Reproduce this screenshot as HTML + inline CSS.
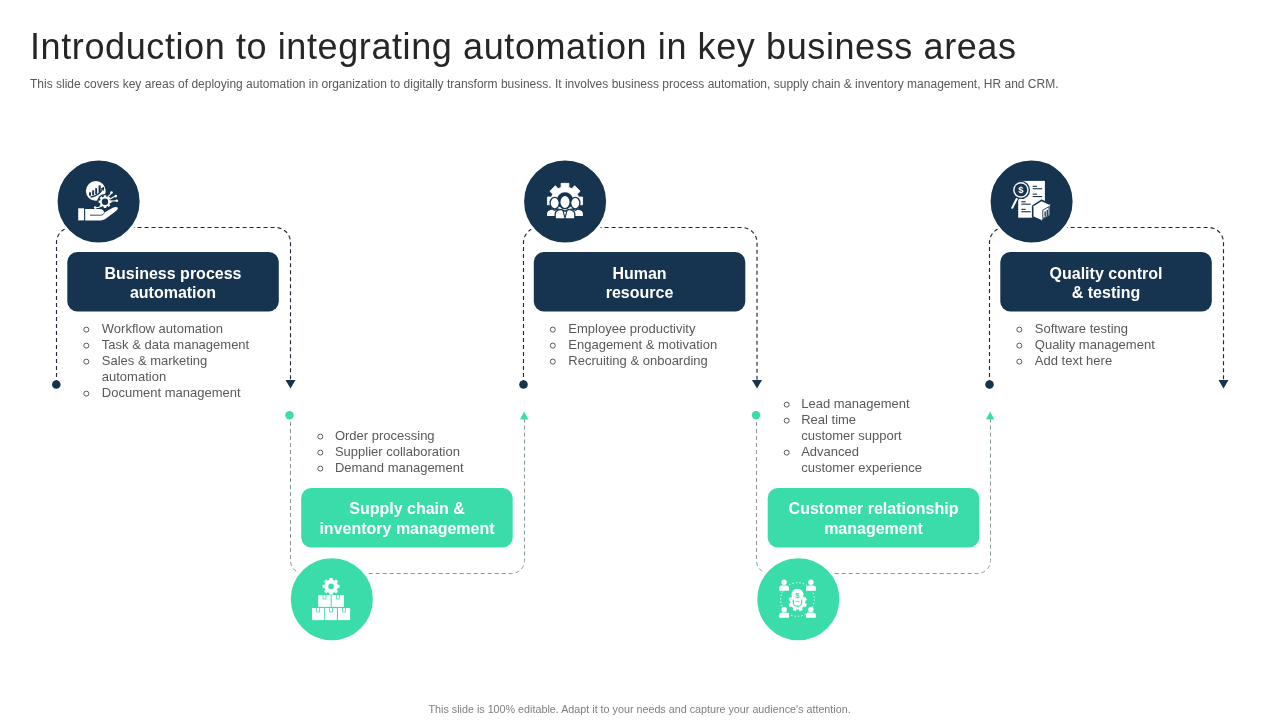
<!DOCTYPE html>
<html><head><meta charset="utf-8">
<style>
html,body{margin:0;padding:0;background:#fff;}
body{width:1280px;height:720px;overflow:hidden;position:relative;font-family:"Liberation Sans",sans-serif;}
svg{position:absolute;left:0;top:0;will-change:transform;}
text{font-family:"Liberation Sans",sans-serif;}
.li{font-size:13px;fill:#595959;}
.bt{font-size:16px;font-weight:bold;fill:#fff;}
</style></head>
<body>
<svg width="1280" height="720" viewBox="0 0 1280 720">
<defs>
  <g id="bul"><circle cx="0" cy="0.6" r="2.5" fill="none" stroke="#595959" stroke-width="1"/></g>
</defs>
<!-- Title -->
<text x="30" y="59.3" font-size="36" letter-spacing="0.6" fill="#262626">Introduction to integrating automation in key business areas</text>
<text x="30" y="88" font-size="12" fill="#595959">This slide covers key areas of deploying automation in organization to digitally transform business. It involves business process automation, supply chain &amp; inventory management, HR and CRM.</text>

<!-- top dashed loops -->
<g fill="none" stroke="#1f2a36" stroke-width="1.15" stroke-dasharray="4 3">
  <path d="M56.5 384 V242.5 A15 15 0 0 1 71.5 227.5 H275.5 A15 15 0 0 1 290.5 242.5 V381"/>
  <path d="M523.5 384 V242.5 A15 15 0 0 1 538.5 227.5 H742 A15 15 0 0 1 757 242.5 V381"/>
  <path d="M989.5 384 V242.5 A15 15 0 0 1 1004.5 227.5 H1208.5 A15 15 0 0 1 1223.5 242.5 V381"/>
</g>
<!-- bottom dashed loops -->
<g fill="none" stroke="#8a9894" stroke-width="1" stroke-dasharray="4 3">
  <path d="M290.5 415 V560.5 A13 13 0 0 0 303.5 573.5 H511.5 A13 13 0 0 0 524.5 560.5 V419"/>
  <path d="M756.5 415 V560.5 A13 13 0 0 0 769.5 573.5 H977.5 A13 13 0 0 0 990.5 560.5 V419"/>
</g>
<!-- dots and arrows -->
<g fill="#16334F">
  <circle cx="56.3" cy="384.5" r="4.3"/>
  <circle cx="523.5" cy="384.5" r="4.3"/>
  <circle cx="989.5" cy="384.5" r="4.3"/>
  <path d="M285.5 380 H295.5 L290.5 388.5 Z"/>
  <path d="M752 380 H762 L757 388.5 Z"/>
  <path d="M1218.5 380 H1228.5 L1223.5 388.5 Z"/>
</g>
<g fill="#3ADDAA">
  <circle cx="289.5" cy="415.3" r="4.2"/>
  <circle cx="756" cy="415.3" r="4.2"/>
  <path d="M520 419.5 H528.3 L524.1 411.5 Z"/>
  <path d="M986 419.5 H994.3 L990.1 411.5 Z"/>
</g>

<!-- navy circles -->
<g fill="#16334F" stroke="#fff" stroke-width="3">
  <circle cx="98.6" cy="201.4" r="42.5"/>
  <circle cx="565.1" cy="201.4" r="42.5"/>
  <circle cx="1031.6" cy="201.4" r="42.5"/>
</g>
<!-- teal circles -->
<g fill="#3ADDAA" stroke="#fff" stroke-width="3">
  <circle cx="331.8" cy="599.3" r="42.5"/>
  <circle cx="798.3" cy="599.3" r="42.5"/>
</g>

<!-- navy boxes -->
<g fill="#16334F">
  <rect x="67.3" y="252" width="211.5" height="59.5" rx="10"/>
  <rect x="533.8" y="252" width="211.5" height="59.5" rx="10"/>
  <rect x="1000.3" y="252" width="211.5" height="59.5" rx="10"/>
</g>
<g fill="#3ADDAA">
  <rect x="301.2" y="488" width="211.5" height="59.5" rx="10"/>
  <rect x="767.7" y="488" width="211.5" height="59.5" rx="10"/>
</g>

<!-- box texts -->
<g class="bt" text-anchor="middle">
  <text x="173" y="278.8">Business process</text>
  <text x="173" y="297.5">automation</text>
  <text x="639.5" y="278.8">Human</text>
  <text x="639.5" y="297.5">resource</text>
  <text x="1106" y="278.8">Quality control</text>
  <text x="1106" y="297.5">&amp; testing</text>
  <text x="407" y="514.3">Supply chain &amp;</text>
  <text x="407" y="533.6">inventory management</text>
  <text x="873.5" y="514.3">Customer relationship</text>
  <text x="873.5" y="533.6">management</text>
</g>

<!-- lists -->
<g class="li">
  <text x="101.8" y="333">Workflow automation</text>
  <text x="101.8" y="349">Task &amp; data management</text>
  <text x="101.8" y="365">Sales &amp; marketing</text>
  <text x="101.8" y="381">automation</text>
  <text x="101.8" y="397">Document management</text>

  <text x="568.3" y="333">Employee productivity</text>
  <text x="568.3" y="349">Engagement &amp; motivation</text>
  <text x="568.3" y="365">Recruiting &amp; onboarding</text>

  <text x="1034.8" y="333">Software testing</text>
  <text x="1034.8" y="349">Quality management</text>
  <text x="1034.8" y="365">Add text here</text>

  <text x="334.9" y="440">Order processing</text>
  <text x="334.9" y="456">Supplier collaboration</text>
  <text x="334.9" y="472">Demand management</text>

  <text x="801.2" y="408">Lead management</text>
  <text x="801.2" y="424">Real time</text>
  <text x="801.2" y="440">customer support</text>
  <text x="801.2" y="456">Advanced</text>
  <text x="801.2" y="472">customer experience</text>
</g>
<g>
  <use href="#bul" x="86.3" y="329"/><use href="#bul" x="86.3" y="345"/><use href="#bul" x="86.3" y="361"/><use href="#bul" x="86.3" y="393"/>
  <use href="#bul" x="552.8" y="329"/><use href="#bul" x="552.8" y="345"/><use href="#bul" x="552.8" y="361"/>
  <use href="#bul" x="1019.3" y="329"/><use href="#bul" x="1019.3" y="345"/><use href="#bul" x="1019.3" y="361"/>
  <use href="#bul" x="320.3" y="436"/><use href="#bul" x="320.3" y="452"/><use href="#bul" x="320.3" y="468"/>
  <use href="#bul" x="786.7" y="404"/><use href="#bul" x="786.7" y="420"/><use href="#bul" x="786.7" y="452"/>
</g>

<!-- footer -->
<text x="639.6" y="712.5" font-size="10.75" fill="#7f7f7f" text-anchor="middle">This slide is 100% editable. Adapt it to your needs and capture your audience's attention.</text>

<!-- ICONS -->
<g id="icons">
<!-- icon1: hand + chart + gear -->
<g>
  <circle cx="95.8" cy="190.9" r="9.9" fill="#fff"/>
  <g fill="#16334F">
    <rect x="89.1" y="192.3" width="1.9" height="3.4"/>
    <rect x="92.2" y="190.3" width="1.9" height="5"/>
    <rect x="95.2" y="188.2" width="1.9" height="6"/>
    <rect x="98.6" y="185.4" width="2.1" height="7.2"/>
  </g>
  <path d="M90.5 197 Q98 196.4 102.4 189.4" fill="none" stroke="#16334F" stroke-width="1.3"/>
  <path d="M100.6 188.8 L104.3 186.4 L103.9 190.8 Z" fill="#16334F"/>
  <circle cx="105" cy="201.7" r="7.8" fill="#16334F"/>
  <path d="M106.95 196.99 L106.32 196.77 L106.24 195.32 L103.76 195.32 L103.68 196.77 L103.05 196.99 L102.45 197.28 L101.37 196.31 L99.61 198.07 L100.58 199.15 L100.29 199.75 L100.07 200.38 L98.62 200.46 L98.62 202.94 L100.07 203.02 L100.29 203.65 L100.58 204.25 L99.61 205.33 L101.37 207.09 L102.45 206.12 L103.05 206.41 L103.68 206.63 L103.76 208.08 L106.24 208.08 L106.32 206.63 L106.95 206.41 L107.55 206.12 L108.63 207.09 L110.39 205.33 L109.42 204.25 L109.71 203.65 L109.93 203.02 L111.38 202.94 L111.38 200.46 L109.93 200.38 L109.71 199.75 L109.42 199.15 L110.39 198.07 L108.63 196.31 L107.55 197.28 Z" fill="#fff"/>
  <circle cx="105" cy="201.7" r="3.2" fill="#16334F"/>
  <g stroke="#fff" stroke-width="1.1" fill="none">
    <path d="M107.6 196.8 L110.2 194.6 L111.4 192.9"/>
    <path d="M109.6 199.2 L113 197.2 L115.6 196.2"/>
    <path d="M110.5 201.1 L116.6 200.8"/>
    <path d="M101.5 206 L98.5 207.5 L95.4 207.6"/>
  </g>
  <g fill="#fff">
    <circle cx="111.5" cy="192.6" r="1.3"/>
    <circle cx="115.8" cy="196.1" r="1.3"/>
    <circle cx="116.8" cy="200.8" r="1.3"/>
    <circle cx="95.2" cy="207.6" r="1.3"/>
  </g>
  <rect x="78.2" y="208.3" width="5.9" height="12.1" fill="#fff"/>
  <path d="M85.2 208.9 H99.5 C102.5 208.9 104.3 210.6 104 212.8 L111.5 208.5 C114 207 116.5 206.5 117.6 207.6 C118.3 208.6 117.5 209.8 116 211 L106 218.5 C104 220 101.5 220.6 99 220.6 H85.2 Z" fill="#fff"/>
  <path d="M90 215.2 H100.5 C102.5 215.2 103.9 214.2 104 212.8" fill="none" stroke="#16334F" stroke-width="0.85"/>
</g>

<!-- icon2: HR -->
<g>
  <path d="M570.36 187.97 L568.86 187.44 L568.90 183.33 L561.10 183.33 L561.14 187.44 L559.64 187.97 L558.21 188.66 L555.33 185.72 L549.82 191.23 L552.76 194.11 L552.07 195.54 L551.54 197.04 L547.43 197.00 L547.43 204.80 L551.54 204.76 L552.07 206.26 L552.76 207.69 L549.82 210.57 L555.33 216.08 L558.21 213.14 L559.64 213.83 L561.14 214.36 L561.10 218.47 L568.90 218.47 L568.86 214.36 L570.36 213.83 L571.79 213.14 L574.67 216.08 L580.18 210.57 L577.24 207.69 L577.93 206.26 L578.46 204.76 L582.57 204.80 L582.57 197.00 L578.46 197.04 L577.93 195.54 L577.24 194.11 L580.18 191.23 L574.67 185.72 L571.79 188.66 Z" fill="#fff" stroke="#fff" stroke-width="0.8" stroke-linejoin="round"/>
  <circle cx="565" cy="200.6" r="8.3" fill="#16334F"/>
  <g fill="#fff" stroke="#16334F" stroke-width="1.3">
    <ellipse cx="554.7" cy="203.1" rx="4.6" ry="5.8"/>
    <path d="M546.4 216.6 V213.4 C546.4 210.9 548.8 209.5 552 209 L554.7 210.3 L557.4 209 C560.6 209.5 563 210.9 563 213.4 V216.6 Z"/>
    <ellipse cx="575.3" cy="203.1" rx="4.6" ry="5.8"/>
    <path d="M567 216.6 V213.4 C567 210.9 569.4 209.5 572.6 209 L575.3 210.3 L578 209 C581.2 209.5 583.6 210.9 583.6 213.4 V216.6 Z"/>
    <ellipse cx="565" cy="202" rx="5.2" ry="6.7"/>
    <path d="M555.2 219 V214 C555.2 211.4 557.8 209.8 561.2 209.3 L565 211.2 L568.8 209.3 C572.2 209.8 574.8 211.4 574.8 214 V219 Z"/>
  </g>
  <path d="M562.8 209.8 L565 218.2 L567.2 209.8" fill="none" stroke="#16334F" stroke-width="1.1"/>
</g>

<!-- icon3: QC -->
<g>
  <rect x="1018.2" y="180.9" width="26.7" height="36.8" fill="#fff"/>
  <g fill="#16334F">
    <rect x="1032.7" y="185.8" width="4.4" height="1.1"/>
    <rect x="1032.7" y="188.2" width="9.4" height="1.1"/>
    <rect x="1032.7" y="193.6" width="4.4" height="1.1"/>
    <rect x="1032.7" y="196" width="9.4" height="1.1"/>
    <rect x="1021.3" y="201.2" width="4.4" height="1.1"/>
    <rect x="1021.3" y="203.6" width="9.4" height="1.1"/>
    <rect x="1021.3" y="208.8" width="4.4" height="1.1"/>
    <rect x="1021.3" y="211.2" width="9.4" height="1.1"/>
  </g>
  <line x1="1017" y1="198.2" x2="1012.3" y2="207.8" stroke="#16334F" stroke-width="4.2" stroke-linecap="round"/>
  <line x1="1017" y1="198.2" x2="1012.3" y2="207.8" stroke="#fff" stroke-width="2" stroke-linecap="round"/>
  <circle cx="1020.9" cy="189.9" r="9.2" fill="#16334F"/>
  <circle cx="1020.9" cy="189.9" r="7.8" fill="#fff"/>
  <circle cx="1020.9" cy="189.9" r="6.4" fill="#16334F"/>
  <text x="1020.9" y="193.3" font-size="9.5" font-weight="bold" fill="#fff" text-anchor="middle">$</text>
  <path d="M1041.4 200.3 L1050.4 204.5 V215.5 L1041.4 220.8 L1032.7 217 V205.9 Z" fill="#fff" stroke="#16334F" stroke-width="1.6" stroke-linejoin="round"/>
  <path d="M1032.7 205.9 L1041.6 210 L1050.4 204.5 M1041.6 210 V220.6" fill="none" stroke="#fff" stroke-width="0.6"/>
  <path d="M1042.8 210.2 L1049 206.6 V214.6 L1042.8 218.4 Z" fill="none" stroke="#16334F" stroke-width="0.9"/>
  <rect x="1044.5" y="211.5" width="1.3" height="4.6" fill="#16334F"/>
  <rect x="1046.6" y="209.8" width="1.3" height="5.2" fill="#16334F"/>
</g>

<!-- icon4: supply chain -->
<g fill="#fff">
  <path d="M333.66 580.21 L332.72 579.90 L332.74 577.96 L329.46 577.96 L329.48 579.90 L328.54 580.21 L327.65 580.66 L326.29 579.27 L323.97 581.59 L325.36 582.95 L324.91 583.84 L324.60 584.78 L322.66 584.76 L322.66 588.04 L324.60 588.02 L324.91 588.96 L325.36 589.85 L323.97 591.21 L326.29 593.53 L327.65 592.14 L328.54 592.59 L329.48 592.90 L329.46 594.84 L332.74 594.84 L332.72 592.90 L333.66 592.59 L334.55 592.14 L335.91 593.53 L338.23 591.21 L336.84 589.85 L337.29 588.96 L337.60 588.02 L339.54 588.04 L339.54 584.76 L337.60 584.78 L337.29 583.84 L336.84 582.95 L338.23 581.59 L335.91 579.27 L334.55 580.66 Z"/>
  <circle cx="331.1" cy="586.4" r="2.8" fill="#3ADDAA"/>
  <rect x="318.2" y="595.1" width="12.5" height="11.8"/>
  <rect x="331.7" y="595.1" width="12.2" height="11.8"/>
  <rect x="312" y="608" width="12.2" height="12.1"/>
  <rect x="325.1" y="608" width="11.8" height="12.1"/>
  <rect x="338" y="608" width="12.1" height="12.1"/>
  <g fill="none" stroke="#3ADDAA" stroke-width="0.8">
    <path d="M323 595 V599 H326 V595"/>
    <path d="M336.4 595 V599 H339.4 V595"/>
    <path d="M316.6 608 V612 H319.6 V608"/>
    <path d="M329.5 608 V612 H332.5 V608"/>
    <path d="M342.5 608 V612 H345.5 V608"/>
  </g>
</g>

<!-- icon5: CRM -->
<g fill="#fff">
  <circle cx="797.5" cy="599.5" r="16.8" fill="none" stroke="#fff" stroke-width="1" stroke-dasharray="1.3 2.2"/>
  <circle cx="784.1" cy="582.3" r="2.7"/>
  <path d="M779.2 590.8 V587.6 C779.2 586.3 780.5 585.5 782 585.4 H786.2 C787.7 585.5 789 586.3 789 587.6 V590.8 Z"/>
  <circle cx="810.9" cy="582.3" r="2.7"/>
  <path d="M806 590.8 V587.6 C806 586.3 807.3 585.5 808.8 585.4 H813 C814.5 585.5 815.8 586.3 815.8 587.6 V590.8 Z"/>
  <circle cx="784.1" cy="609.4" r="2.7"/>
  <path d="M779.2 617.8 V614.6 C779.2 613.3 780.5 612.5 782 612.4 H786.2 C787.7 612.5 789 613.3 789 614.6 V617.8 Z"/>
  <circle cx="810.9" cy="609.4" r="2.7"/>
  <path d="M806 617.8 V614.6 C806 613.3 807.3 612.5 808.8 612.4 H813 C814.5 612.5 815.8 613.3 815.8 614.6 V617.8 Z"/>
  <path d="M803.07 596.63 L802.11 595.81 L802.75 594.07 L799.73 592.82 L798.95 594.50 L797.70 594.40 L796.45 594.50 L795.67 592.82 L792.65 594.07 L793.29 595.81 L792.33 596.63 L791.51 597.59 L789.77 596.95 L788.52 599.97 L790.20 600.75 L790.10 602.00 L790.20 603.25 L788.52 604.03 L789.77 607.05 L791.51 606.41 L792.33 607.37 L793.29 608.19 L792.65 609.93 L795.67 611.18 L796.45 609.50 L797.70 609.60 L798.95 609.50 L799.73 611.18 L802.75 609.93 L802.11 608.19 L803.07 607.37 L803.89 606.41 L805.63 607.05 L806.88 604.03 L805.20 603.25 L805.30 602.00 L805.20 600.75 L806.88 599.97 L805.63 596.95 L803.89 597.59 Z"/>
  <circle cx="797.5" cy="594.8" r="6"/>
  <path d="M793.3 599.4 V602.2 A4.2 4.2 0 0 0 801.7 602.2 V599.4" fill="none" stroke="#3ADDAA" stroke-width="1.2"/>
  <path d="M795.6 601.4 H799.6" stroke="#3ADDAA" stroke-width="0.7"/>
  <text x="797.5" y="597.7" font-size="8" font-weight="bold" fill="#3ADDAA" text-anchor="middle">$</text>
</g>
</g>
</svg>
</body></html>
